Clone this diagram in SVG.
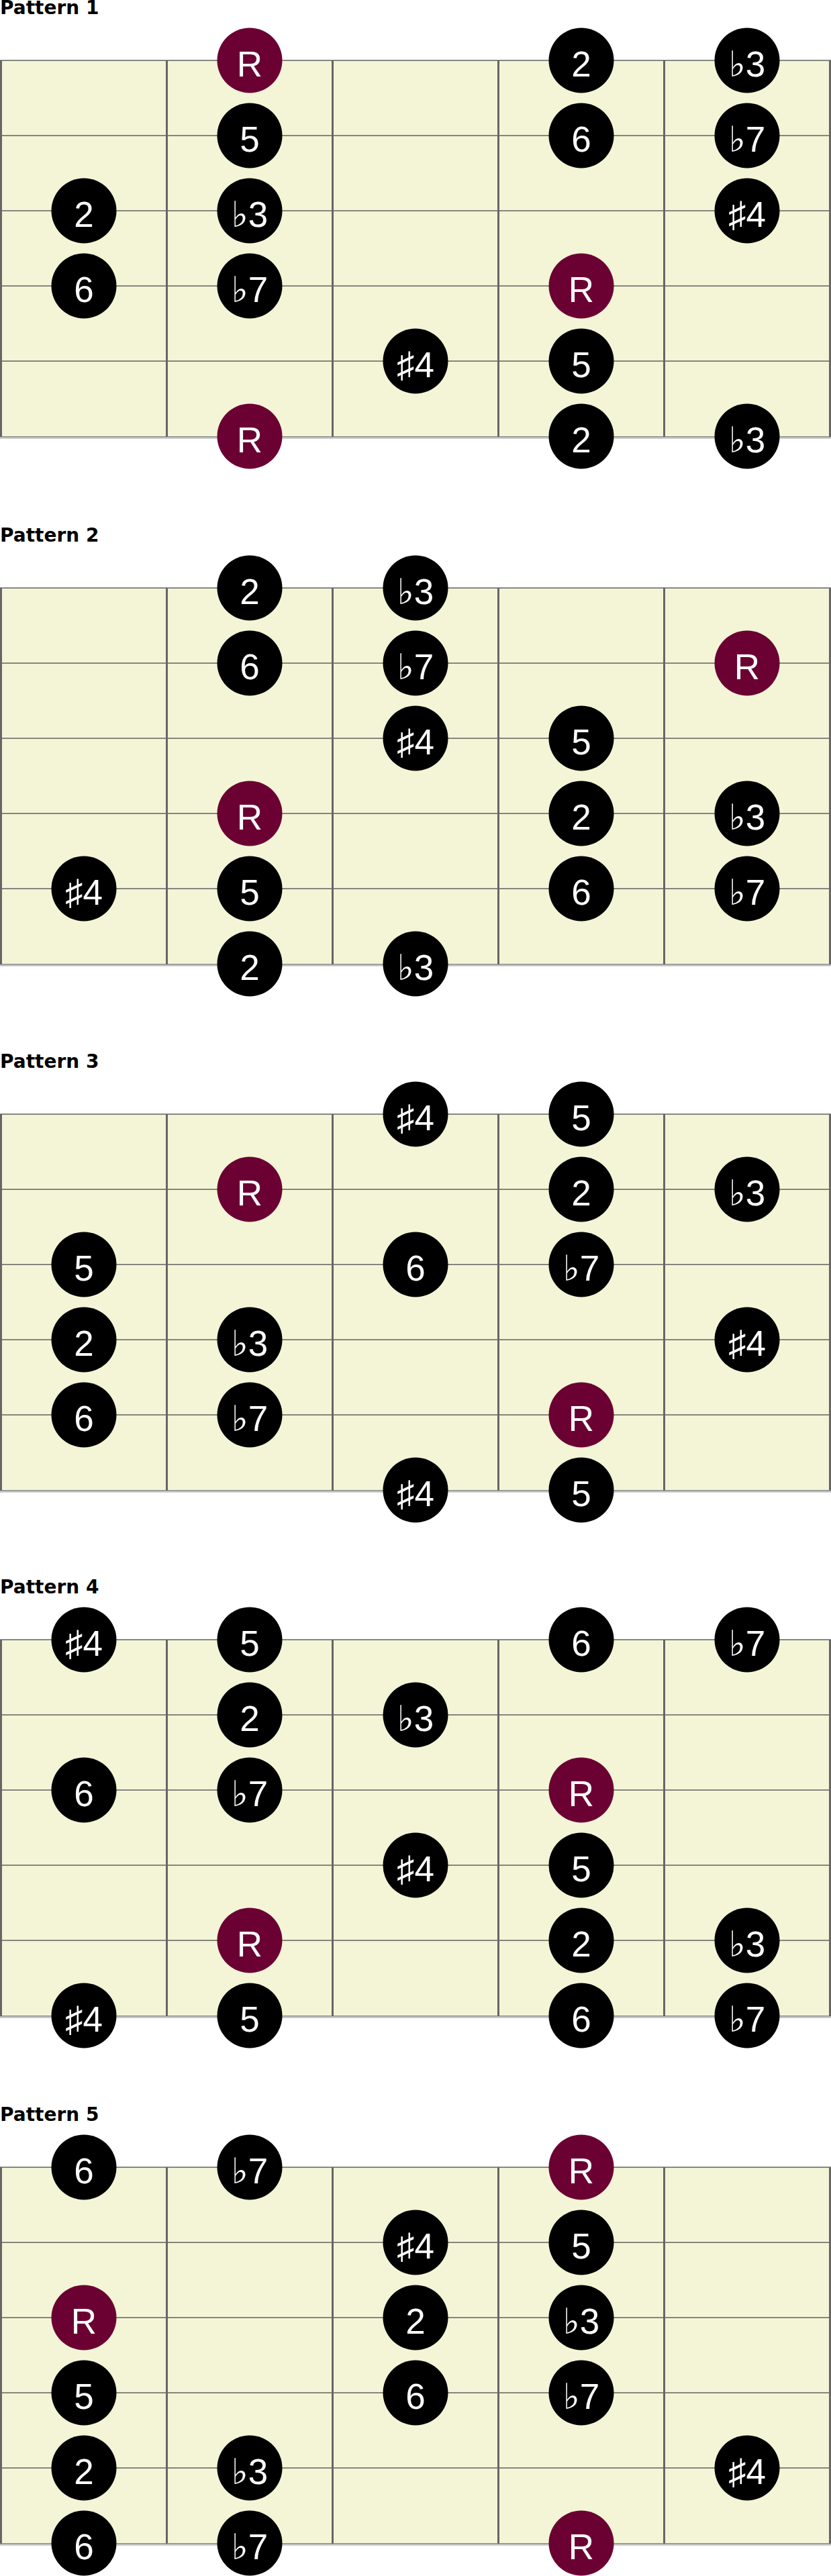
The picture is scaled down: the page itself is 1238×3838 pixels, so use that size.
<svg xmlns="http://www.w3.org/2000/svg" xmlns:xlink="http://www.w3.org/1999/xlink" width="1238" height="3838" viewBox="0 0 1238 3838">
<style>
.title{font-family:"DejaVu Sans",sans-serif;font-weight:bold;font-size:28px;fill:#000}
.n circle{fill:#000}
.n.r circle{fill:#6b0033}
.n text{font-family:"Liberation Sans","DejaVu Sans",sans-serif;font-size:53px;fill:#fff;text-anchor:middle}
.str{stroke:#606060;stroke-width:1.5}
.fret{stroke:#666;stroke-width:3}
</style>
<defs>
<g id="board">
<rect x="0" y="0" width="1238" height="561" fill="#f4f5d6"/>
<g class="str">
<line x1="0" y1="0" x2="1238" y2="0"/>
<line x1="0" y1="112" x2="1238" y2="112"/>
<line x1="0" y1="224" x2="1238" y2="224"/>
<line x1="0" y1="336" x2="1238" y2="336"/>
<line x1="0" y1="448" x2="1238" y2="448"/>
</g>
<rect x="0" y="560" width="1238" height="1.3" fill="#808080"/>
<rect x="0" y="561.3" width="1238" height="2.2" fill="#b8b8b8"/>
<g class="fret">
<line x1="1.5" y1="0" x2="1.5" y2="561"/>
<line x1="248.5" y1="0" x2="248.5" y2="561"/>
<line x1="495.5" y1="0" x2="495.5" y2="561"/>
<line x1="742.5" y1="0" x2="742.5" y2="561"/>
<line x1="989.5" y1="0" x2="989.5" y2="561"/>
<line x1="1236.5" y1="0" x2="1236.5" y2="561"/>
</g>
</g>
</defs>

<g id="connectors"></g>

<g id="pattern1" transform="translate(0,90)">
<text class="title" x="0" y="-69.5">Pattern 1</text>
<use xlink:href="#board"/>
<g id="p1-r0-c1" class="n r"><circle cx="372" cy="0" r="48.5"/><text x="372" y="24">R</text></g>
<g id="p1-r0-c3" class="n"><circle cx="866" cy="0" r="48.5"/><text x="866" y="24">2</text></g>
<g id="p1-r0-c4" class="n"><circle cx="1113" cy="0" r="48.5"/><text x="1113" y="24">♭3</text></g>
<g id="p1-r1-c1" class="n"><circle cx="372" cy="112" r="48.5"/><text x="372" y="136">5</text></g>
<g id="p1-r1-c3" class="n"><circle cx="866" cy="112" r="48.5"/><text x="866" y="136">6</text></g>
<g id="p1-r1-c4" class="n"><circle cx="1113" cy="112" r="48.5"/><text x="1113" y="136">♭7</text></g>
<g id="p1-r2-c0" class="n"><circle cx="125" cy="224" r="48.5"/><text x="125" y="248">2</text></g>
<g id="p1-r2-c1" class="n"><circle cx="372" cy="224" r="48.5"/><text x="372" y="248">♭3</text></g>
<g id="p1-r2-c4" class="n"><circle cx="1113" cy="224" r="48.5"/><text x="1113" y="248">♯4</text></g>
<g id="p1-r3-c0" class="n"><circle cx="125" cy="336" r="48.5"/><text x="125" y="360">6</text></g>
<g id="p1-r3-c1" class="n"><circle cx="372" cy="336" r="48.5"/><text x="372" y="360">♭7</text></g>
<g id="p1-r3-c3" class="n r"><circle cx="866" cy="336" r="48.5"/><text x="866" y="360">R</text></g>
<g id="p1-r4-c2" class="n"><circle cx="619" cy="448" r="48.5"/><text x="619" y="472">♯4</text></g>
<g id="p1-r4-c3" class="n"><circle cx="866" cy="448" r="48.5"/><text x="866" y="472">5</text></g>
<g id="p1-r5-c1" class="n r"><circle cx="372" cy="560" r="48.5"/><text x="372" y="584">R</text></g>
<g id="p1-r5-c3" class="n"><circle cx="866" cy="560" r="48.5"/><text x="866" y="584">2</text></g>
<g id="p1-r5-c4" class="n"><circle cx="1113" cy="560" r="48.5"/><text x="1113" y="584">♭3</text></g>
</g>

<g id="pattern2" transform="translate(0,876)">
<text class="title" x="0" y="-69.5">Pattern 2</text>
<use xlink:href="#board"/>
<g id="p2-r0-c1" class="n"><circle cx="372" cy="0" r="48.5"/><text x="372" y="24">2</text></g>
<g id="p2-r0-c2" class="n"><circle cx="619" cy="0" r="48.5"/><text x="619" y="24">♭3</text></g>
<g id="p2-r1-c1" class="n"><circle cx="372" cy="112" r="48.5"/><text x="372" y="136">6</text></g>
<g id="p2-r1-c2" class="n"><circle cx="619" cy="112" r="48.5"/><text x="619" y="136">♭7</text></g>
<g id="p2-r1-c4" class="n r"><circle cx="1113" cy="112" r="48.5"/><text x="1113" y="136">R</text></g>
<g id="p2-r2-c2" class="n"><circle cx="619" cy="224" r="48.5"/><text x="619" y="248">♯4</text></g>
<g id="p2-r2-c3" class="n"><circle cx="866" cy="224" r="48.5"/><text x="866" y="248">5</text></g>
<g id="p2-r3-c1" class="n r"><circle cx="372" cy="336" r="48.5"/><text x="372" y="360">R</text></g>
<g id="p2-r3-c3" class="n"><circle cx="866" cy="336" r="48.5"/><text x="866" y="360">2</text></g>
<g id="p2-r3-c4" class="n"><circle cx="1113" cy="336" r="48.5"/><text x="1113" y="360">♭3</text></g>
<g id="p2-r4-c0" class="n"><circle cx="125" cy="448" r="48.5"/><text x="125" y="472">♯4</text></g>
<g id="p2-r4-c1" class="n"><circle cx="372" cy="448" r="48.5"/><text x="372" y="472">5</text></g>
<g id="p2-r4-c3" class="n"><circle cx="866" cy="448" r="48.5"/><text x="866" y="472">6</text></g>
<g id="p2-r4-c4" class="n"><circle cx="1113" cy="448" r="48.5"/><text x="1113" y="472">♭7</text></g>
<g id="p2-r5-c1" class="n"><circle cx="372" cy="560" r="48.5"/><text x="372" y="584">2</text></g>
<g id="p2-r5-c2" class="n"><circle cx="619" cy="560" r="48.5"/><text x="619" y="584">♭3</text></g>
</g>

<g id="pattern3" transform="translate(0,1660)">
<text class="title" x="0" y="-69.5">Pattern 3</text>
<use xlink:href="#board"/>
<g id="p3-r0-c2" class="n"><circle cx="619" cy="0" r="48.5"/><text x="619" y="24">♯4</text></g>
<g id="p3-r0-c3" class="n"><circle cx="866" cy="0" r="48.5"/><text x="866" y="24">5</text></g>
<g id="p3-r1-c1" class="n r"><circle cx="372" cy="112" r="48.5"/><text x="372" y="136">R</text></g>
<g id="p3-r1-c3" class="n"><circle cx="866" cy="112" r="48.5"/><text x="866" y="136">2</text></g>
<g id="p3-r1-c4" class="n"><circle cx="1113" cy="112" r="48.5"/><text x="1113" y="136">♭3</text></g>
<g id="p3-r2-c0" class="n"><circle cx="125" cy="224" r="48.5"/><text x="125" y="248">5</text></g>
<g id="p3-r2-c2" class="n"><circle cx="619" cy="224" r="48.5"/><text x="619" y="248">6</text></g>
<g id="p3-r2-c3" class="n"><circle cx="866" cy="224" r="48.5"/><text x="866" y="248">♭7</text></g>
<g id="p3-r3-c0" class="n"><circle cx="125" cy="336" r="48.5"/><text x="125" y="360">2</text></g>
<g id="p3-r3-c1" class="n"><circle cx="372" cy="336" r="48.5"/><text x="372" y="360">♭3</text></g>
<g id="p3-r3-c4" class="n"><circle cx="1113" cy="336" r="48.5"/><text x="1113" y="360">♯4</text></g>
<g id="p3-r4-c0" class="n"><circle cx="125" cy="448" r="48.5"/><text x="125" y="472">6</text></g>
<g id="p3-r4-c1" class="n"><circle cx="372" cy="448" r="48.5"/><text x="372" y="472">♭7</text></g>
<g id="p3-r4-c3" class="n r"><circle cx="866" cy="448" r="48.5"/><text x="866" y="472">R</text></g>
<g id="p3-r5-c2" class="n"><circle cx="619" cy="560" r="48.5"/><text x="619" y="584">♯4</text></g>
<g id="p3-r5-c3" class="n"><circle cx="866" cy="560" r="48.5"/><text x="866" y="584">5</text></g>
</g>

<g id="pattern4" transform="translate(0,2443)">
<text class="title" x="0" y="-69.5">Pattern 4</text>
<use xlink:href="#board"/>
<g id="p4-r0-c0" class="n"><circle cx="125" cy="0" r="48.5"/><text x="125" y="24">♯4</text></g>
<g id="p4-r0-c1" class="n"><circle cx="372" cy="0" r="48.5"/><text x="372" y="24">5</text></g>
<g id="p4-r0-c3" class="n"><circle cx="866" cy="0" r="48.5"/><text x="866" y="24">6</text></g>
<g id="p4-r0-c4" class="n"><circle cx="1113" cy="0" r="48.5"/><text x="1113" y="24">♭7</text></g>
<g id="p4-r1-c1" class="n"><circle cx="372" cy="112" r="48.5"/><text x="372" y="136">2</text></g>
<g id="p4-r1-c2" class="n"><circle cx="619" cy="112" r="48.5"/><text x="619" y="136">♭3</text></g>
<g id="p4-r2-c0" class="n"><circle cx="125" cy="224" r="48.5"/><text x="125" y="248">6</text></g>
<g id="p4-r2-c1" class="n"><circle cx="372" cy="224" r="48.5"/><text x="372" y="248">♭7</text></g>
<g id="p4-r2-c3" class="n r"><circle cx="866" cy="224" r="48.5"/><text x="866" y="248">R</text></g>
<g id="p4-r3-c2" class="n"><circle cx="619" cy="336" r="48.5"/><text x="619" y="360">♯4</text></g>
<g id="p4-r3-c3" class="n"><circle cx="866" cy="336" r="48.5"/><text x="866" y="360">5</text></g>
<g id="p4-r4-c1" class="n r"><circle cx="372" cy="448" r="48.5"/><text x="372" y="472">R</text></g>
<g id="p4-r4-c3" class="n"><circle cx="866" cy="448" r="48.5"/><text x="866" y="472">2</text></g>
<g id="p4-r4-c4" class="n"><circle cx="1113" cy="448" r="48.5"/><text x="1113" y="472">♭3</text></g>
<g id="p4-r5-c0" class="n"><circle cx="125" cy="560" r="48.5"/><text x="125" y="584">♯4</text></g>
<g id="p4-r5-c1" class="n"><circle cx="372" cy="560" r="48.5"/><text x="372" y="584">5</text></g>
<g id="p4-r5-c3" class="n"><circle cx="866" cy="560" r="48.5"/><text x="866" y="584">6</text></g>
<g id="p4-r5-c4" class="n"><circle cx="1113" cy="560" r="48.5"/><text x="1113" y="584">♭7</text></g>
</g>

<g id="pattern5" transform="translate(0,3229)">
<text class="title" x="0" y="-69.5">Pattern 5</text>
<use xlink:href="#board"/>
<g id="p5-r0-c0" class="n"><circle cx="125" cy="0" r="48.5"/><text x="125" y="24">6</text></g>
<g id="p5-r0-c1" class="n"><circle cx="372" cy="0" r="48.5"/><text x="372" y="24">♭7</text></g>
<g id="p5-r0-c3" class="n r"><circle cx="866" cy="0" r="48.5"/><text x="866" y="24">R</text></g>
<g id="p5-r1-c2" class="n"><circle cx="619" cy="112" r="48.5"/><text x="619" y="136">♯4</text></g>
<g id="p5-r1-c3" class="n"><circle cx="866" cy="112" r="48.5"/><text x="866" y="136">5</text></g>
<g id="p5-r2-c0" class="n r"><circle cx="125" cy="224" r="48.5"/><text x="125" y="248">R</text></g>
<g id="p5-r2-c2" class="n"><circle cx="619" cy="224" r="48.5"/><text x="619" y="248">2</text></g>
<g id="p5-r2-c3" class="n"><circle cx="866" cy="224" r="48.5"/><text x="866" y="248">♭3</text></g>
<g id="p5-r3-c0" class="n"><circle cx="125" cy="336" r="48.5"/><text x="125" y="360">5</text></g>
<g id="p5-r3-c2" class="n"><circle cx="619" cy="336" r="48.5"/><text x="619" y="360">6</text></g>
<g id="p5-r3-c3" class="n"><circle cx="866" cy="336" r="48.5"/><text x="866" y="360">♭7</text></g>
<g id="p5-r4-c0" class="n"><circle cx="125" cy="448" r="48.5"/><text x="125" y="472">2</text></g>
<g id="p5-r4-c1" class="n"><circle cx="372" cy="448" r="48.5"/><text x="372" y="472">♭3</text></g>
<g id="p5-r4-c4" class="n"><circle cx="1113" cy="448" r="48.5"/><text x="1113" y="472">♯4</text></g>
<g id="p5-r5-c0" class="n"><circle cx="125" cy="560" r="48.5"/><text x="125" y="584">6</text></g>
<g id="p5-r5-c1" class="n"><circle cx="372" cy="560" r="48.5"/><text x="372" y="584">♭7</text></g>
<g id="p5-r5-c3" class="n r"><circle cx="866" cy="560" r="48.5"/><text x="866" y="584">R</text></g>
</g>
</svg>
